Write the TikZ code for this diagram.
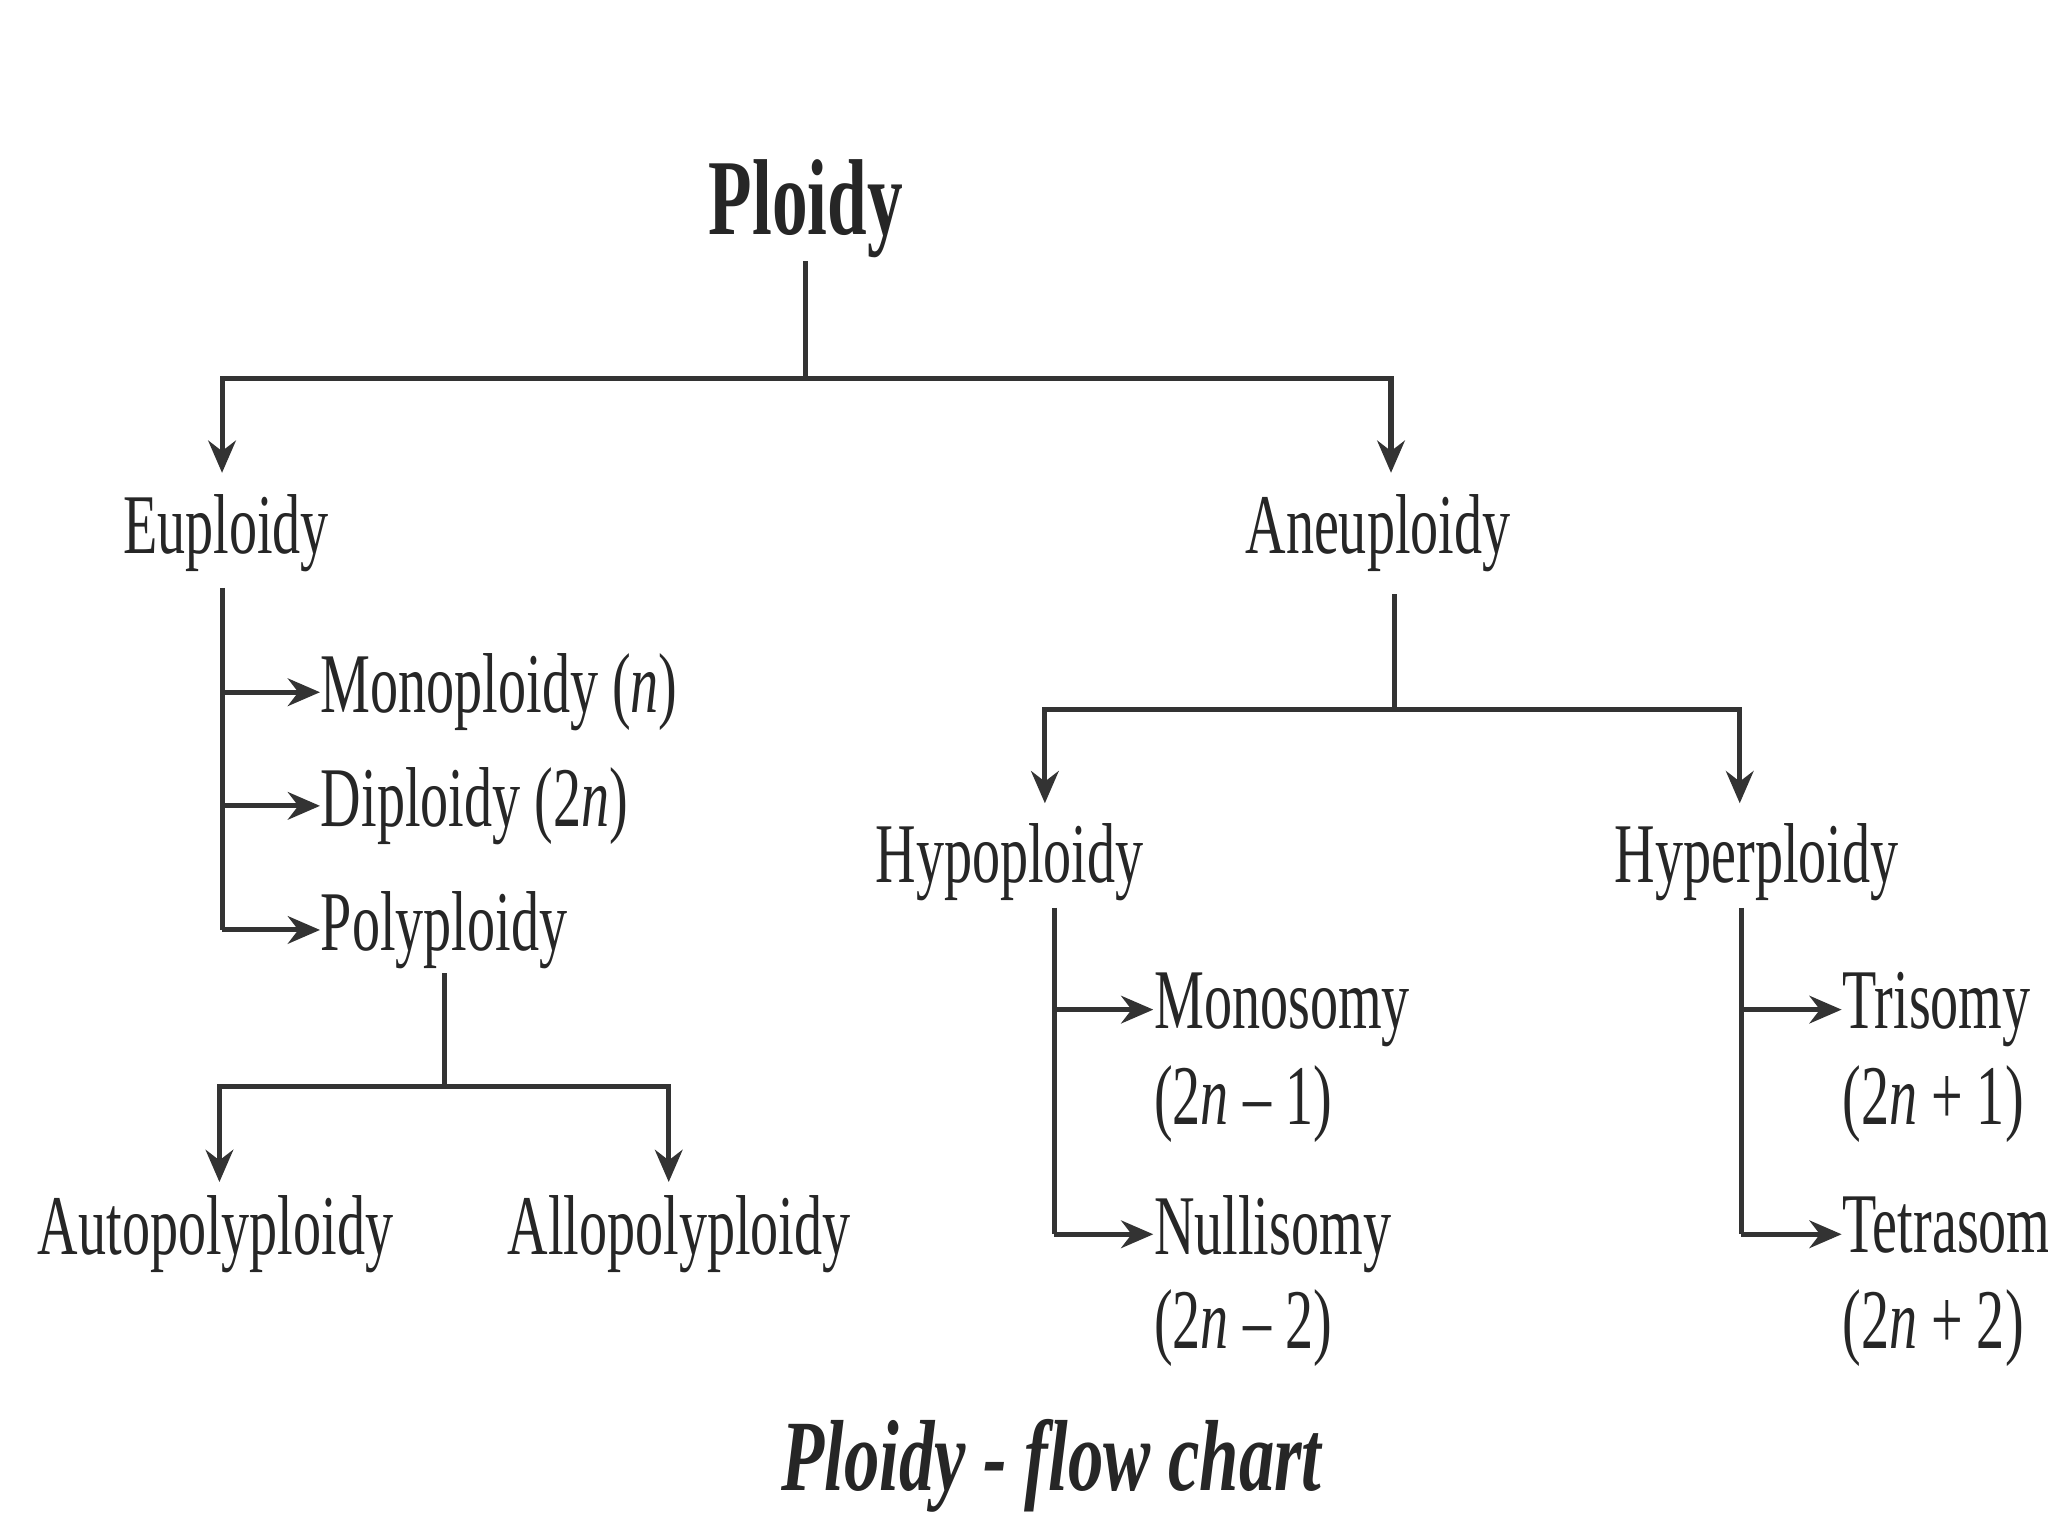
\documentclass[tikz,border=0pt]{standalone}
\usepackage{fontspec}
\setmainfont{Liberation Serif}
\usepackage{graphicx}
\usetikzlibrary{arrows.meta}
\newcommand{\cn}[1]{\scalebox{0.66}[1]{#1}}
\tikzset{
 lbl/.style={font=\fontsize{18.5}{20}\selectfont, text=black!85, inner sep=0pt},
 ln/.style={line width=1.1pt, draw=black!80},
 ar/.style={ln, -{Stealth[length=7pt,width=6pt]}},
}
\begin{document}
\begin{tikzpicture}[x=0.01cm,y=-0.01cm]
\useasboundingbox (0,0) rectangle (1568,1176);
\clip (0,0) rectangle (1568,1176);
\fill[white] (0,0) rectangle (1568,1176);
% labels
\node[lbl,font=\fontsize{23.5}{25}\selectfont\bfseries] (pl) at (617,160) {\cn{Ploidy}};
\node[lbl] (eu) at (173,408) {\cn{Euploidy}};
\node[lbl] (an) at (1055,408) {\cn{Aneuploidy}};
\node[lbl,anchor=west] (mo) at (245,530) {\cn{Monoploidy (\textit{n})}};
\node[lbl,anchor=west] (di) at (245,617) {\cn{Diploidy (2\textit{n})}};
\node[lbl,anchor=west] (po) at (245,712) {\cn{Polyploidy}};
\node[lbl] (au) at (165,945) {\cn{Autopolyploidy}};
\node[lbl] (al) at (520,945) {\cn{Allopolyploidy}};
\node[lbl] (hy) at (773,660) {\cn{Hypoploidy}};
\node[lbl] (he) at (1345,660) {\cn{Hyperploidy}};
\node[lbl,anchor=west] (ms) at (883,773) {\cn{Monosomy}};
\node[lbl,anchor=west] (ms2) at (883,845) {\cn{(2\textit{n} -- 1)}};
\node[lbl,anchor=west] (nu) at (883,945) {\cn{Nullisomy}};
\node[lbl,anchor=west] (nu2) at (883,1017) {\cn{(2\textit{n} -- 2)}};
\node[lbl,anchor=west] (tr) at (1410,773) {\cn{Trisomy}};
\node[lbl,anchor=west] (tr2) at (1410,845) {\cn{(2\textit{n} + 1)}};
\node[lbl,anchor=west] (te) at (1410,945) {\cn{Tetrasomy}};
\node[lbl,anchor=west] (te2) at (1410,1017) {\cn{(2\textit{n} + 2)}};
\node[lbl,font=\fontsize{22}{24}\selectfont\bfseries\itshape] (cap) at (805,1122) {\scalebox{0.7}[1]{Ploidy - flow chart}};
% junction coordinates
\coordinate (j1) at (617,290);
\coordinate (j2) at (340,832);
\coordinate (j3) at (1068,543);
% Ploidy tree
\draw[ln] (617,200) -- (j1);
\draw[ar] (j1) -| (170,362);
\draw[ar] (j1) -| (1065,362);
% Euploidy
\draw[ln] (170,450) -- (170,712);
\draw[ar] (170,530) -- (mo.west);
\draw[ar] (170,617) -- (di.west);
\draw[ar] (170,712) -- (po.west);
% Polyploidy
\draw[ln] (340,745) -- (j2);
\draw[ar] (j2) -| (168,905);
\draw[ar] (j2) -| (512,905);
% Aneuploidy
\draw[ln] (1068,455) -- (j3);
\draw[ar] (j3) -| (800,615);
\draw[ar] (j3) -| (1332,615);
% Hypoploidy
\draw[ln] (807,695) -- (807,945);
\draw[ar] (807,773) -- (ms.west);
\draw[ar] (807,945) -- (nu.west);
% Hyperploidy
\draw[ln] (1333,695) -- (1333,945);
\draw[ar] (1333,773) -- (tr.west);
\draw[ar] (1333,945) -- (te.west);
\end{tikzpicture}
\end{document}
